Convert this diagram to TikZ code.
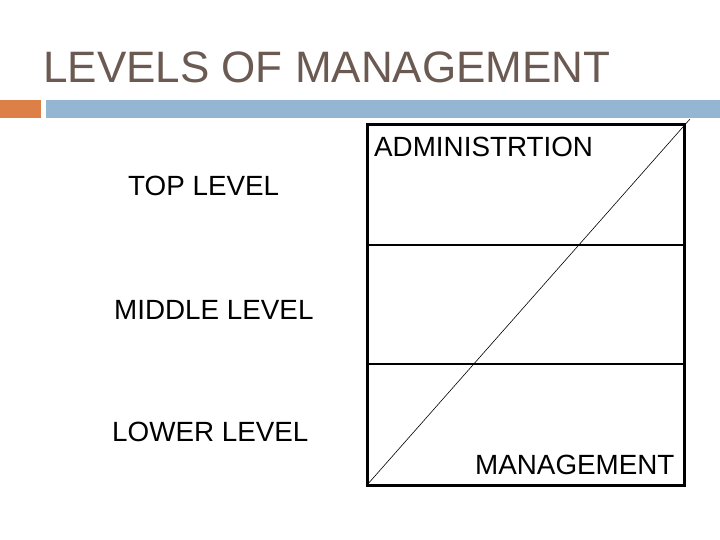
\documentclass[tikz,border=0pt]{standalone}
\usepackage{fontspec}
\setmainfont{Liberation Sans}
\usepackage{tikz}
\usetikzlibrary{positioning}

\definecolor{titlegray}{RGB}{107,90,82}
\definecolor{barorange}{RGB}{221,128,71}
\definecolor{barblue}{RGB}{148,182,210}

\tikzset{
  level/.style={anchor=base west, inner sep=0pt, font=\fontsize{27.8}{30}\selectfont},
}

\begin{document}
\begin{tikzpicture}[x=1pt, y=-1pt]
      \useasboundingbox (0,0) rectangle (720,540);

      \node[anchor=base west, inner sep=0pt, text=titlegray, font=\fontsize{44}{48}\selectfont] (title) at (43,83) {LEVELS OF MANAGEMENT};
      \fill[barorange] (0,100) rectangle (41,118);
      \fill[barblue] (46,100) rectangle (720,118);

      \coordinate (tl) at (367,125);
      \coordinate (br) at (684,485);
      \coordinate (bl) at (367,485);
      \coordinate (tip) at (690,119);

      \node[level] (admin) at (374,157) {ADMINISTRTION};
      \node[level] (top) at (128,196) {TOP LEVEL};
      \node[level] (middle) at (114,319) {MIDDLE LEVEL};
      \node[level] (lower) at (112,441) {LOWER LEVEL};
      \node[level] (mgmt) at (475,474) {MANAGEMENT};

      \draw[line width=1.5pt] (367,245) -- (684,245);
      \draw[line width=1.5pt] (367,364) -- (684,364);
      \draw[line width=0.6pt] (bl) -- (tip);
      \draw[line width=3pt] (tl) rectangle (br);
    \end{tikzpicture}
\end{document}
